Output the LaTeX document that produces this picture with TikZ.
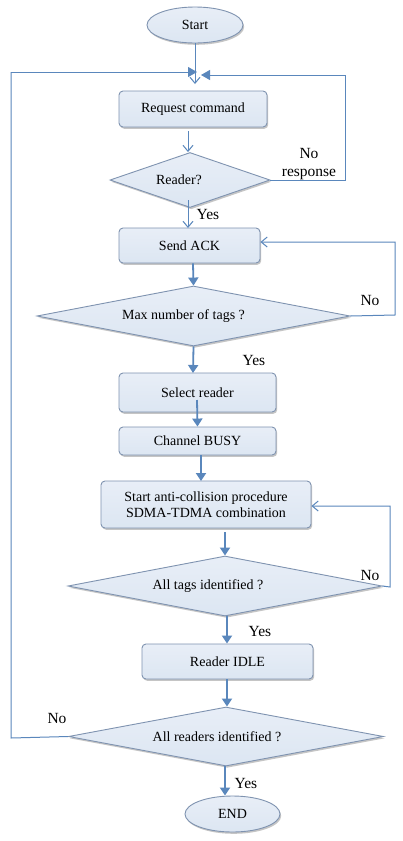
\documentclass[tikz,border=0pt]{standalone}
\usepackage{fontspec}
\setmainfont{Liberation Serif}
\usetikzlibrary{shapes.geometric,arrows.meta,shadows}
\definecolor{boxfill}{HTML}{DCE6F2}
\definecolor{boxtop}{HTML}{E8EEF7}
\definecolor{boxline}{HTML}{7F93B0}
\definecolor{conn}{HTML}{5A87BC}
\tikzset{
  procbox/.style={draw=boxline, line width=0.9pt, rounded corners=4pt, top color=boxtop, bottom color=boxfill,
    drop shadow={shadow xshift=1.2pt, shadow yshift=-1.8pt, fill=black!45}, font=\fontsize{14}{16}\selectfont, align=center, inner sep=0pt},
  dec/.style={diamond, aspect=5, draw=boxline, line width=0.9pt, top color=boxtop, bottom color=boxfill,
    drop shadow={shadow xshift=1.2pt, shadow yshift=-1.8pt, fill=black!45}, font=\fontsize{14}{16}\selectfont, inner sep=0pt},
  term/.style={ellipse, draw=boxline, line width=0.9pt, top color=boxtop, bottom color=boxfill,
    drop shadow={shadow xshift=1.2pt, shadow yshift=-1.8pt, fill=black!45}, font=\fontsize{14}{16}\selectfont, inner sep=0pt},
  thick arrow/.style={draw=conn, line width=1.8pt, -{Triangle[length=8pt,width=10pt]}},
  thin arrow/.style={draw=conn, line width=1pt, -{Straight Barb[length=6pt,width=10pt]}},
  thin line/.style={draw=conn, line width=1pt},
  thin filled/.style={draw=conn, line width=1pt, -{Triangle[length=9pt,width=10pt]}},
  lbl/.style={font=\fontsize{15.5}{17}\selectfont, inner sep=0pt}
}
\begin{document}
\begin{tikzpicture}[x=1pt,y=-1pt]
\useasboundingbox (0,0) rectangle (403,841);
\fill[white] (0,0) rectangle (403,841);
% nodes
\node[term, minimum width=96pt, minimum height=36pt] (start) at (195,25) {Start};
\node[procbox, minimum width=148pt, minimum height=36pt] (req) at (193,109) {Request command};
\node[dec, minimum width=160pt, minimum height=55pt] (rdr) at (190,180) {\hspace*{-22pt}Reader?};
\node[procbox, minimum width=141pt, minimum height=35pt] (ack) at (189.5,245.5) {Send ACK};
\node[dec, minimum width=313pt, minimum height=60pt] (max) at (193.5,316) {\hspace*{-20pt}Max number of tags ?};
\node[procbox, minimum width=157pt, minimum height=39pt] (sel) at (197.5,392.5) {Select reader};
\node[procbox, minimum width=157pt, minimum height=28pt] (busy) at (197.5,441) {Channel BUSY};
\node[procbox, minimum width=210pt, minimum height=47pt] (anti) at (206,504.5) {Start anti-collision procedure\\SDMA-TDMA combination};
\node[dec, minimum width=314pt, minimum height=60pt] (tags) at (225,586) {\hspace*{-34pt}All tags identified ?};
\node[procbox, minimum width=171pt, minimum height=35pt] (idle) at (227.5,661.5) {Reader IDLE};
\node[dec, minimum width=315pt, minimum height=59pt] (rall) at (226,736.5) {\hspace*{-18pt}All readers identified ?};
\node[term, minimum width=95pt, minimum height=36pt] (end) at (232.5,814) {END};
% junction coordinates
\coordinate (jl) at (11,72);
\coordinate (jlend) at (197,72);
\coordinate (jr) at (345,75);
\coordinate (jrend) at (201,75);
\coordinate (jtop) at (195,84);
% connectors
\draw[thin arrow] (start.south) -- (jtop);
\draw[thin filled] (jl) -- (jlend);
\draw[thin filled] (jr) -- (jrend);
\draw[thin arrow] (188,131) -- (rdr.north -| 188,0);
\draw[thin line] (rdr.east) -- (345,180) -- (jr);
\draw[thin arrow] (188,200) -- (188,228);
\draw[thick arrow] (ack.south -| 193,0) -- (max.north);
\draw[thin arrow] (max.east) -- (395,315) -- (395,242) -- (ack.east |- 0,242);
\draw[thick arrow] (max.south) -- (193,373);
\draw[thick arrow] (197,400) -- (busy.north);
\draw[thick arrow] (201,455) -- (201,481);
\draw[thick arrow] (225,532) -- (tags.north);
\draw[thin arrow] (tags.east) -- (390,587) -- (390,506) -- (anti.east |- 0,506);
\draw[thick arrow] (tags.south -| 227,0) -- (idle.north -| 227,0);
\draw[thick arrow] (idle.south -| 227,0) -- (rall.north -| 227,0);
\draw[thin line] (rall.west) -- (11,738) -- (jl);
\draw[thick arrow] (rall.south -| 225,0) -- (end.north -| 225,0);
% labels
\node[lbl, align=center] (l1) at (309,164) {No\\[1pt]response};
\node[lbl] (l2) at (208,214) {Yes};
\node[lbl] (l3) at (370,300) {No};
\node[lbl] (l4) at (254,360) {Yes};
\node[lbl] (l5) at (370,575) {No};
\node[lbl] (l6) at (260,631) {Yes};
\node[lbl] (l7) at (57,718) {No};
\node[lbl] (l8) at (246,783) {Yes};
\end{tikzpicture}
\end{document}
